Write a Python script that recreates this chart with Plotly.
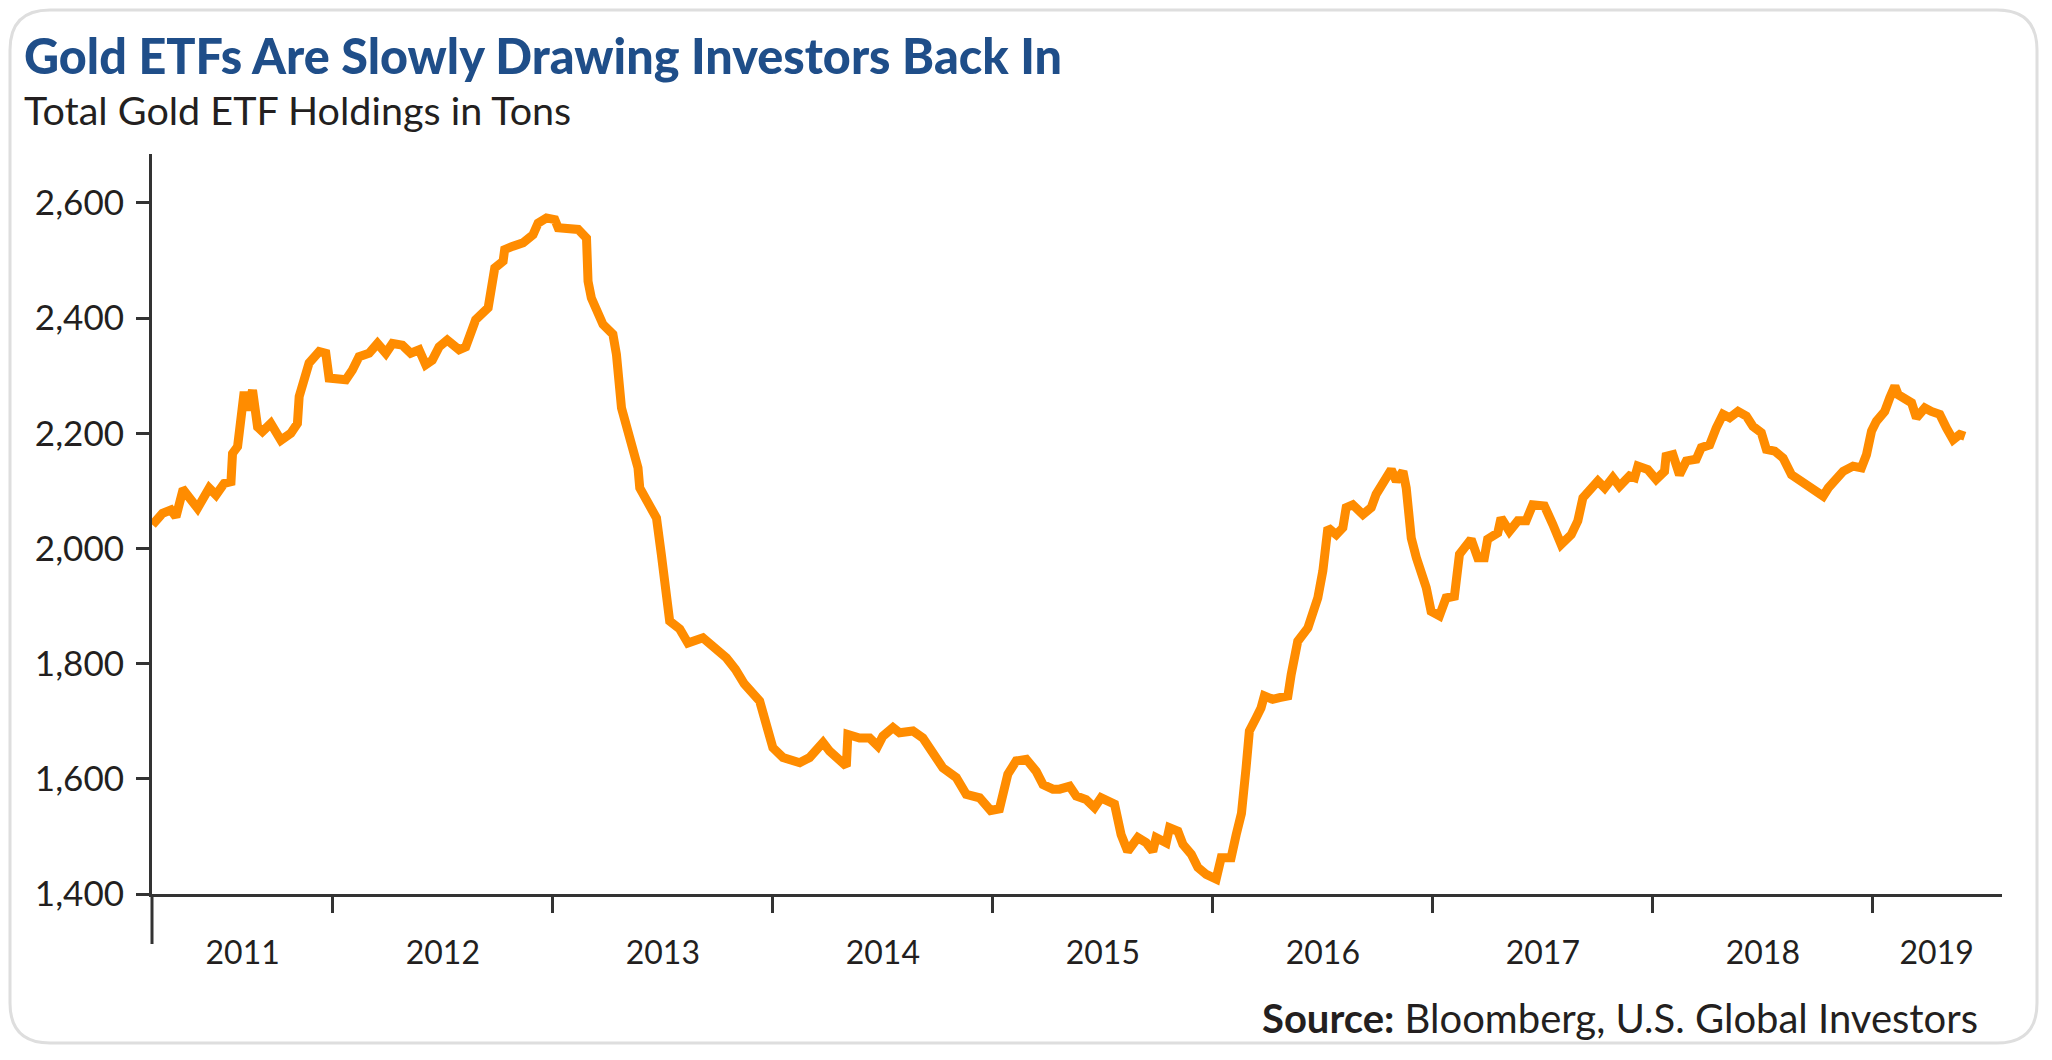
import plotly.graph_objects as go

# ---- data (decimal year, tons) ----
years = [
    2011.180, 2011.226, 2011.264, 2011.287, 2011.317, 2011.324, 2011.385, 2011.438, 2011.469, 2011.506,
    2011.537, 2011.544, 2011.567, 2011.597, 2011.612, 2011.635, 2011.658, 2011.680, 2011.718, 2011.764,
    2011.809, 2011.839, 2011.847, 2011.870, 2011.892, 2011.938, 2011.968, 2011.983, 2012.029, 2012.059,
    2012.089, 2012.119, 2012.165, 2012.203, 2012.241, 2012.271, 2012.316, 2012.354, 2012.392, 2012.422,
    2012.452, 2012.483, 2012.520, 2012.574, 2012.604, 2012.649, 2012.706, 2012.736, 2012.774, 2012.781,
    2012.819, 2012.865, 2012.910, 2012.933, 2012.971, 2013.009, 2013.024, 2013.069, 2013.115, 2013.153,
    2013.160, 2013.175, 2013.198, 2013.228, 2013.273, 2013.289, 2013.312, 2013.334, 2013.364, 2013.387,
    2013.395, 2013.425, 2013.471, 2013.493, 2013.508, 2013.523, 2013.531, 2013.577, 2013.614, 2013.682,
    2013.728, 2013.789, 2013.830, 2013.870, 2013.940, 2013.970, 2014.000, 2014.046, 2014.122, 2014.167,
    2014.228, 2014.258, 2014.303, 2014.334, 2014.341, 2014.394, 2014.440, 2014.477, 2014.500, 2014.546,
    2014.576, 2014.637, 2014.682, 2014.727, 2014.773, 2014.834, 2014.879, 2014.940, 2014.990, 2015.030,
    2015.068, 2015.106, 2015.152, 2015.197, 2015.228, 2015.273, 2015.303, 2015.349, 2015.379, 2015.424,
    2015.462, 2015.492, 2015.553, 2015.583, 2015.613, 2015.659, 2015.697, 2015.727, 2015.742, 2015.788,
    2015.803, 2015.841, 2015.864, 2015.902, 2015.932, 2015.970, 2016.015, 2016.038, 2016.083, 2016.106,
    2016.130, 2016.151, 2016.166, 2016.197, 2016.219, 2016.234, 2016.272, 2016.303, 2016.341, 2016.356,
    2016.386, 2016.432, 2016.477, 2016.500, 2016.523, 2016.561, 2016.591, 2016.606, 2016.636, 2016.682,
    2016.720, 2016.742, 2016.773, 2016.811, 2016.834, 2016.864, 2016.879, 2016.902, 2016.925, 2016.970,
    2016.992, 2017.030, 2017.060, 2017.098, 2017.121, 2017.174, 2017.204, 2017.234, 2017.249, 2017.295,
    2017.310, 2017.348, 2017.386, 2017.424, 2017.454, 2017.507, 2017.545, 2017.583, 2017.629, 2017.659,
    2017.682, 2017.712, 2017.750, 2017.781, 2017.818, 2017.848, 2017.894, 2017.917, 2017.932, 2017.977,
    2018.015, 2018.053, 2018.060, 2018.091, 2018.121, 2018.152, 2018.197, 2018.220, 2018.258, 2018.288,
    2018.319, 2018.349, 2018.387, 2018.425, 2018.455, 2018.493, 2018.516, 2018.554, 2018.592, 2018.630,
    2018.668, 2018.713, 2018.751, 2018.774, 2018.797, 2018.835, 2018.865, 2018.910, 2018.948, 2018.971,
    2018.994, 2019.016, 2019.054, 2019.077, 2019.100, 2019.115, 2019.153, 2019.176, 2019.198, 2019.236,
    2019.266, 2019.304, 2019.335, 2019.365, 2019.395, 2019.418,
]
tons = [
    2041, 2061, 2067, 2055, 2099, 2100, 2070, 2105, 2093, 2113,
    2116, 2165, 2177, 2272, 2240, 2275, 2211, 2203, 2217, 2188,
    2200, 2217, 2264, 2293, 2322, 2342, 2339, 2296, 2296, 2293,
    2310, 2333, 2339, 2356, 2339, 2356, 2353, 2339, 2345, 2319,
    2327, 2350, 2362, 2345, 2350, 2397, 2418, 2487, 2499, 2519,
    2525, 2531, 2545, 2565, 2574, 2571, 2557, 2554, 2554, 2539,
    2464, 2435, 2412, 2389, 2372, 2337, 2244, 2209, 2175, 2140,
    2105, 2082, 2053, 1990, 1938, 1914, 1874, 1860, 1836, 1845,
    1831, 1810, 1790, 1765, 1735, 1700, 1654, 1637, 1628, 1637,
    1663, 1648, 1631, 1622, 1677, 1671, 1671, 1657, 1674, 1689,
    1680, 1683, 1671, 1643, 1619, 1602, 1573, 1567, 1545, 1548,
    1608, 1631, 1634, 1613, 1590, 1582, 1582, 1587, 1570, 1564,
    1550, 1567, 1556, 1503, 1474, 1498, 1489, 1474, 1498, 1489,
    1515, 1509, 1486, 1469, 1446, 1434, 1426, 1463, 1463, 1503,
    1540, 1619, 1683, 1706, 1723, 1744, 1738, 1741, 1744, 1781,
    1839, 1862, 1914, 1961, 2036, 2024, 2036, 2071, 2076, 2059,
    2071, 2094, 2111, 2137, 2117, 2134, 2105, 2018, 1984, 1932,
    1891, 1883, 1914, 1917, 1990, 2016, 1984, 1984, 2016, 2027,
    2053, 2030, 2048, 2048, 2076, 2074, 2042, 2007, 2024, 2048,
    2088, 2100, 2117, 2105, 2123, 2108, 2126, 2123, 2143, 2137,
    2120, 2134, 2160, 2163, 2128, 2152, 2155, 2175, 2180, 2209,
    2233, 2227, 2238, 2230, 2212, 2201, 2172, 2169, 2157, 2128,
    2117, 2108, 2094, 2091, 2105, 2123, 2134, 2143, 2140, 2163,
    2204, 2221, 2238, 2262, 2282, 2267, 2259, 2253, 2227, 2244,
    2238, 2233, 2209, 2189, 2198, 2195,
]

year_ticks = [2012, 2013, 2014, 2015, 2016, 2017, 2018, 2019]
year_label_pos = [2011.59, 2012.5, 2013.5, 2014.5, 2015.5, 2016.5, 2017.5, 2018.5, 2019.29]
year_labels = ["2011", "2012", "2013", "2014", "2015", "2016", "2017", "2018", "2019"]
y_ticks = [1400, 1600, 1800, 2000, 2200, 2400, 2600]

title = "Gold ETFs Are Slowly Drawing Investors Back In"
subtitle = "Total Gold ETF Holdings in Tons"
source = "<b>Source:</b> Bloomberg, U.S. Global Investors"

# ---- layout geometry (page pixels; page has an 8px body offset) ----
OFF = 8
W, H = 2052, 1060
L = 152 - OFF          # y-axis at page x=152
T = 154 - OFF          # plot top at page y=154
R = W + OFF - 2002     # plot right at page x=2002
B = H + OFF - 894      # x-axis at page y=894
PW, PH = W - L - R, H - T - B


def px(x):  # page x -> paper
    return (x - OFF - L) / PW


def py(y):  # page y -> paper
    return (H - B - (y - OFF)) / PH


FONT = "Lato"
TXT = "#231f20"
AX = "#333333"

fig = go.Figure()
fig.add_trace(go.Scatter(
    x=years, y=tons, mode="lines",
    line=dict(color="#ff8c00", width=9),
    hoverinfo="skip", showlegend=False,
))
# invisible helper trace so the label axis exists
fig.add_trace(go.Scatter(x=year_label_pos, y=[None] * len(year_label_pos), xaxis="x2",
                         mode="markers", showlegend=False, hoverinfo="skip"))

fig.update_layout(
    width=W, height=H,
    margin=dict(l=L, r=R, t=T, b=B),
    paper_bgcolor="white", plot_bgcolor="white",
    font=dict(family=FONT, size=32, color=TXT),
    xaxis=dict(
        range=[2011.178, 2019.587], tickvals=year_ticks, showticklabels=False,
        ticks="outside", ticklen=16, tickwidth=2.5, tickcolor=AX,
        showline=True, linecolor=AX, linewidth=3,
        showgrid=False, zeroline=False,
    ),
    xaxis2=dict(
        range=[2011.178, 2019.587], overlaying="x", anchor="y", side="bottom",
        tickvals=year_label_pos, ticktext=year_labels, ticks="",
        showline=False, showgrid=False, zeroline=False,
        tickfont=dict(family=FONT, size=32, color=TXT),
        ticklabelstandoff=37,
    ),
    yaxis=dict(
        range=[1400, 2685], tickvals=y_ticks, tickformat=",d",
        ticks="outside", ticklen=13, tickwidth=2.5, tickcolor=AX,
        showline=True, linecolor=AX, linewidth=3,
        showgrid=False, zeroline=False,
        tickfont=dict(family=FONT, size=35, color=TXT),
        ticklabelstandoff=5,
    ),
    shapes=[
        # y axis line extends below the x axis
        dict(type="line", xref="paper", yref="paper", x0=0, x1=0, y0=py(944), y1=0,
             line=dict(color=AX, width=3)),
        # rounded frame
        dict(type="path", xref="paper", yref="paper",
             path=(f"M {px(50)} {py(10)} L {px(1997)} {py(10)} Q {px(2037)} {py(10)} {px(2037)} {py(50)} "
                   f"L {px(2037)} {py(1003)} Q {px(2037)} {py(1043)} {px(1997)} {py(1043)} "
                   f"L {px(50)} {py(1043)} Q {px(10)} {py(1043)} {px(10)} {py(1003)} "
                   f"L {px(10)} {py(50)} Q {px(10)} {py(10)} {px(50)} {py(10)} Z"),
             line=dict(color="#dedede", width=3), layer="below"),
    ],
    annotations=[
        dict(text=title, xref="paper", yref="paper", x=px(22), y=py(55),
             xanchor="left", yanchor="middle", showarrow=False,
             font=dict(family=FONT, size=48.5, color="#1f4e89", weight=900)),
        dict(text=subtitle, xref="paper", yref="paper", x=px(22), y=py(109),
             xanchor="left", yanchor="middle", showarrow=False,
             font=dict(family=FONT, size=39.5, color=TXT)),
        dict(text=source, xref="paper", yref="paper", x=px(1980), y=py(1018),
             xanchor="right", yanchor="middle", showarrow=False,
             font=dict(family=FONT, size=40, color=TXT)),
    ],
)

fig.write_html("out.html")
